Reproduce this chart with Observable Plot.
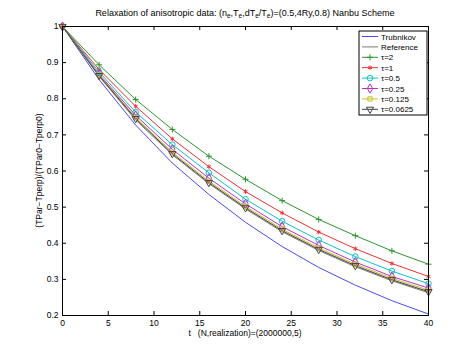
<!DOCTYPE html>
<html><head><meta charset="utf-8">
<script src="https://cdn.jsdelivr.net/npm/d3@7"></script>
<script src="https://cdn.jsdelivr.net/npm/@observablehq/plot@0.6"></script>
<style>body{margin:0;background:#fff}</style>
</head><body><div id="chart"></div>
<script>
// ---- data ----
const t = [0, 4, 8, 12, 16, 20, 24, 28, 32, 36, 40];
const trubnikov = [1, 0.853, 0.727, 0.622, 0.535, 0.458, 0.391, 0.333, 0.284, 0.241, 0.204];
const reference = [1, 0.862, 0.741, 0.645, 0.565, 0.495, 0.432, 0.380, 0.335, 0.296, 0.263];
const tau2     = [1, 0.894, 0.798, 0.715, 0.641, 0.577, 0.518, 0.466, 0.421, 0.379, 0.342];
const tau1     = [1, 0.881, 0.779, 0.689, 0.612, 0.543, 0.484, 0.431, 0.385, 0.344, 0.308];
const tau05    = [1, 0.874, 0.763, 0.673, 0.595, 0.522, 0.461, 0.409, 0.363, 0.323, 0.288];
const tau025   = [1, 0.868, 0.754, 0.660, 0.580, 0.509, 0.446, 0.394, 0.348, 0.308, 0.276];
const tau0125  = [1, 0.866, 0.748, 0.652, 0.572, 0.502, 0.439, 0.387, 0.342, 0.303, 0.270];
const tau00625 = [1, 0.864, 0.745, 0.648, 0.568, 0.498, 0.435, 0.383, 0.338, 0.299, 0.266];
const seriesNames = ["Trubnikov", "Reference", "τ=2", "τ=1", "τ=0.5", "τ=0.25", "τ=0.125", "τ=0.0625"];
const xTicks = [0, 5, 10, 15, 20, 25, 30, 35, 40];
const xTickLabels = ["0", "5", "10", "15", "20", "25", "30", "35", "40"];
const yTicks = [0.2, 0.3, 0.4, 0.5, 0.6, 0.7, 0.8, 0.9, 1];
const yTickLabels = ["0.2", "0.3", "0.4", "0.5", "0.6", "0.7", "0.8", "0.9", "1"];
const titleParts = ["Relaxation of anisotropic data: (n", "e", ",T", "e", ",dT", "e", "/T", "e", ")=(0.5,4Ry,0.8) Nanbu Scheme"];
const xLabel = "t\u00a0\u00a0\u00a0(N,realization)=(2000000,5)";
const yLabel = "(TPar\u2212Tperp)/(TPar0\u2212Tperp0)";

// ---- styles ----
const allValues = [trubnikov, reference, tau2, tau1, tau05, tau025, tau0125, tau00625];
const styles = [
  {color: "#4a4af2", symbol: null},
  {color: "#7a7a7a", symbol: null},
  {color: "#2e942e", symbol: "plus", r: 2.1},
  {color: "#f03030", symbol: "asterisk", r: 2.1},
  {color: "#10c0c8", symbol: "circle", r: 2.8},
  {color: "#c030c8", symbol: "diamond", r: 2.8},
  {color: "#c8c020", symbol: "square", r: 2.4},
  {color: "#444444", symbol: "triangle", r: 2.7, rotate: 180}
];
const series = seriesNames.map((name, i) => ({name, values: allValues[i], ...styles[i]}));

const W = 474, H = 355;
const mL = 62, mR = 46, mT = 26, mB = 40;
const fw = W - mL - mR, fh = H - mT - mB, tk = 4;
const font = "'Liberation Sans', Arial, Helvetica, sans-serif";
const xMap = new Map(xTicks.map((d, i) => [d, xTickLabels[i]]));
const yMap = new Map(yTicks.map((d, i) => [d, yTickLabels[i]]));

const marks = [];
for (const s of series) {
  const rows = t.map((x, i) => ({t: x, v: s.values[i]}));
  marks.push(Plot.line(rows, {x: "t", y: "v", stroke: s.color, strokeWidth: 1}));
}
for (const s of series) {
  if (!s.symbol) continue;
  const rows = t.map((x, i) => ({t: x, v: s.values[i]}));
  marks.push(Plot.dot(rows, {x: "t", y: "v", symbol: () => s.symbol, r: s.r, stroke: s.color, fill: "none", strokeWidth: 1, rotate: s.rotate || 0}));
}

const chart = Plot.plot({
  width: W, height: H,
  marginLeft: mL, marginRight: mR, marginTop: mT, marginBottom: mB,
  style: {fontFamily: font, fontSize: "8.5px", background: "#fff", color: "#000"},
  x: {domain: [0, 40]},
  y: {domain: [0.2, 1]},
  symbol: {type: "identity"},
  marks: [
    Plot.axisX(xTicks, {tickSize: 0, tickPadding: 4, tickFormat: d => xMap.get(d), label: null, fontSize: 8.5}),
    Plot.axisY(yTicks, {tickSize: 0, tickPadding: 4, tickFormat: d => yMap.get(d), label: null, fontSize: 8.5}),
    ...marks,
    Plot.tickX(xTicks, {x: d => d, insetTop: fh - tk, stroke: "#000"}),
    Plot.tickX(xTicks, {x: d => d, insetBottom: fh - tk, stroke: "#000"}),
    Plot.tickY(yTicks, {y: d => d, insetRight: fw - tk, stroke: "#000"}),
    Plot.tickY(yTicks, {y: d => d, insetLeft: fw - tk, stroke: "#000"}),
    Plot.frame({stroke: "#000", strokeWidth: 1})
  ]
});
document.getElementById("chart").appendChild(chart);

// ---- titles & legend ----
const svg = d3.select(chart);
const title = svg.append("text").attr("x", mL + fw / 2).attr("y", 16).attr("text-anchor", "middle")
  .attr("font-family", font).attr("font-size", 9).attr("fill", "#000");
titleParts.forEach((p, i) => {
  const sub = i % 2 === 1;
  title.append("tspan").text(p).attr("font-size", sub ? 6.5 : 9)
    .attr("dy", i === 0 ? 0 : (sub ? 2 : -2));
});
svg.append("text").attr("x", mL + fw / 2).attr("y", H - 19).attr("text-anchor", "middle")
  .attr("font-family", font).attr("font-size", 8.5).text(xLabel);
svg.append("text").attr("transform", `translate(42,${mT + fh / 2}) rotate(-90)`).attr("text-anchor", "middle")
  .attr("font-family", font).attr("font-size", 8.5).text(yLabel);

const lg = svg.append("g");
const lx = 359, ly = 31, lw = 68, lh = 84, step = 10.4;
lg.append("rect").attr("x", lx).attr("y", ly).attr("width", lw).attr("height", lh)
  .attr("fill", "#fff").attr("stroke", "#000").attr("stroke-width", 1);
const symMap = {plus: d3.symbolPlus, asterisk: d3.symbolAsterisk, circle: d3.symbolCircle,
  diamond: d3.symbolDiamond, square: d3.symbolSquare, triangle: d3.symbolTriangle};
series.forEach((s, i) => {
  const cy = ly + 5.5 + i * step;
  lg.append("line").attr("x1", lx + 3).attr("x2", lx + 19).attr("y1", cy).attr("y2", cy)
    .attr("stroke", s.color).attr("stroke-width", 1);
  if (s.symbol) {
    lg.append("path").attr("d", d3.symbol(symMap[s.symbol], Math.PI * s.r * s.r)())
      .attr("transform", `translate(${lx + 11},${cy}) rotate(${s.rotate || 0})`)
      .attr("fill", "none").attr("stroke", s.color).attr("stroke-width", 1);
  }
  lg.append("text").attr("x", lx + 22).attr("y", cy + 3).attr("text-anchor", "start")
    .attr("font-family", font).attr("font-size", 8).text(s.name);
});
</script>
</body></html>
